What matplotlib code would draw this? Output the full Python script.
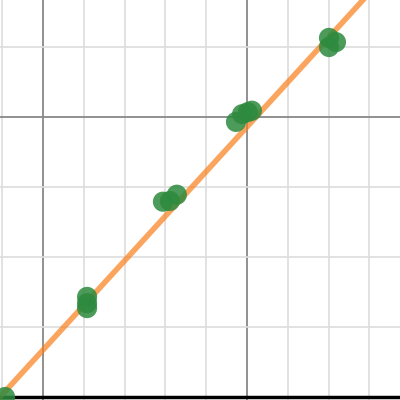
import matplotlib
matplotlib.use("Agg")
import matplotlib.pyplot as plt
import numpy as np

xs = [-0.93, 1.08, 1.08, 1.08, 2.94, 3.11, 3.28, 4.73, 4.88, 5.02, 5.12, 7.01, 7.01, 7.18]
ys = [0.0, 1.43, 1.34, 1.27, 2.79, 2.80, 2.89, 3.93, 4.04, 4.07, 4.09, 5.13, 5.00, 5.07]
slope, intercept = 0.6375, 0.672

fig = plt.figure(figsize=(4, 4), dpi=100)
ax = fig.add_axes([0, 0, 1, 1])
xmin, xmax = -43/40.8, 357/40.8
ymin, ymax = -3/70, 397/70
ax.set_xlim(xmin, xmax); ax.set_ylim(ymin, ymax)
for v in range(-1, 9):
    major = v % 5 == 0
    ax.axvline(v, color='#888' if major else '#ddd', lw=1.3 if major else 1.2, zorder=0)
for v in range(0, 6):
    if v == 0:
        ax.axhline(0, color='black', lw=2.5, zorder=1)
    else:
        major = v == 4
        ax.axhline(v, color='#888' if major else '#ddd', lw=1.3 if major else 1.2, zorder=0)
lx = np.array([xmin, xmax])
ax.plot(lx, slope*lx + intercept, color='#fa7e19', alpha=0.7, lw=4.0, zorder=2)
ax.scatter(xs, ys, s=14.5**2, color='#2d8a3e', alpha=0.85, edgecolors='none', zorder=3)
ax.axis('off')
fig.savefig('out.png', dpi=100)
